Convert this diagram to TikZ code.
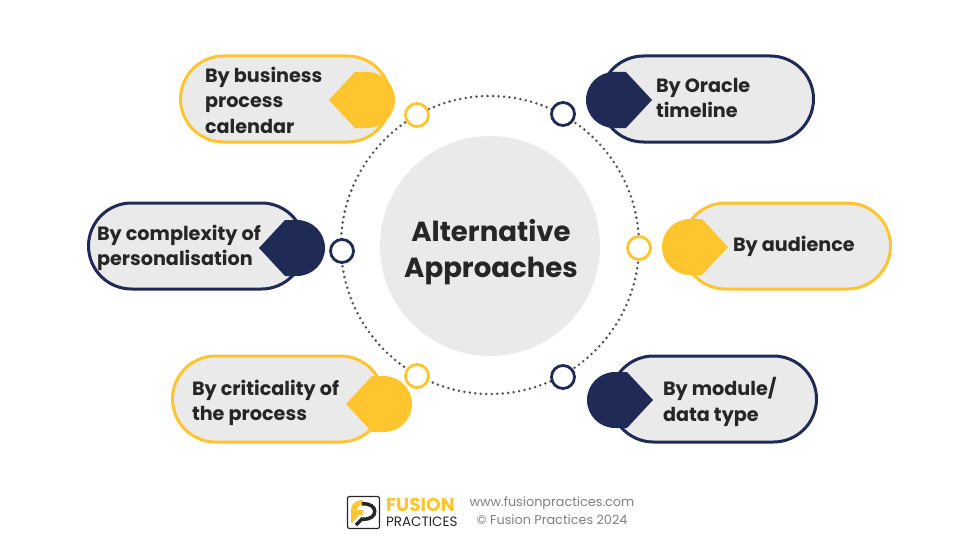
\documentclass[tikz,border=0pt]{standalone}
\usepackage{fontspec}
\setmainfont{Poppins}
\usetikzlibrary{positioning}
\usetikzlibrary{shapes.misc}
\definecolor{sunny}{HTML}{FFC52F}
\definecolor{navy}{HTML}{1F2A55}
\definecolor{pale}{HTML}{EAEAEA}
\definecolor{ink}{HTML}{262626}
\definecolor{footgray}{HTML}{7F7F7F}
\newcommand{\pointer}[4]{
	\fill[#4] (#1,#2) ++(0,-28) -- ++({#3*12},0) -- ++({#3*26},28) -- ++({-#3*26},28) -- ++({-#3*12},0)
		arc[start angle=90, delta angle={#3*180}, radius=28] -- cycle;
}
\tikzset{
	every node/.style = {inner sep=0pt, outer sep=0pt},
	pill/.style = {rounded rectangle, draw=#1, line width=3pt, fill=pale, minimum height=86pt},
	label/.style = {font=\bfseries\fontsize{19.2}{25.5}\selectfont, text=ink, align=left},
	ring/.style = {circle, draw=#1, line width=2.8pt, fill=white, minimum size=23pt}
}

\begin{document}
\begin{tikzpicture}[x=1pt,y=-1pt]
	\useasboundingbox (0,0) rectangle (980,551);

	\node[circle, fill=pale, minimum size=220pt] (hub) at (490,246) {};
	\node[circle, draw=ink!80, line width=2.8pt, line cap=round, dash pattern=on 0pt off 5.5pt, minimum size=298pt] (orbit) at (490,245) {};
	\node[font=\bfseries\fontsize{27.6}{36}\selectfont, text=ink, align=center] (title) at (491,252) {Alternative\\Approaches};

	\node[ring=sunny] (ringA) at (417,115) {};
	\node[ring=navy] (ringB) at (563,114) {};
	\node[ring=navy] (ringC) at (342,251) {};
	\node[ring=sunny] (ringD) at (639,248) {};
	\node[ring=sunny] (ringE) at (417,376) {};
	\node[ring=navy] (ringF) at (563,377) {};

	\node[pill=sunny, minimum width=210pt] (pillA) at (285.5,99) {};
	\node[pill=navy, minimum width=213pt] (pillB) at (707,99) {};
	\node[pill=navy, minimum width=216pt] (pillC) at (196.5,246) {};
	\node[pill=sunny, minimum width=208pt] (pillD) at (786.5,246) {};
	\node[pill=sunny, minimum width=211pt] (pillE) at (278,399) {};
	\node[pill=navy, minimum width=206pt] (pillF) at (713.5,399) {};

	\pointer{367}{100}{-1}{sunny}
	\pointer{614}{100}{1}{navy}
	\pointer{297}{248}{-1}{navy}
	\pointer{690}{247}{1}{sunny}
	\pointer{384}{404}{-1}{sunny}
	\pointer{615}{400}{1}{navy}

	\node[label, anchor=west] (textA) at (205,100) {By business\\process\\calendar};
	\node[label, anchor=west] (textB) at (656,98) {By Oracle\\timeline};
	\node[label, anchor=west] (textC) at (97,248) {By complexity of\\personalisation};
	\node[label, anchor=west] (textD) at (733,246) {By audience};
	\node[label, anchor=west] (textE) at (192,403) {By criticality of\\the process};
	\node[label, anchor=west] (textF) at (663,402) {By module/\\data type};

	% logo
	\node[draw=ink, line width=1.2pt, rounded corners=2pt, minimum size=32pt] (logo) at (363.5,512.5) {};
	\fill[sunny] (351,523) -- (351,510) .. controls (351,504) and (356,500) .. (363,500) -- (363,505) .. controls (359,505) and (357,507) .. (357,510) -- (363,510) -- (363,515) -- (357,515) -- (357,518) -- cycle;
	\draw[ink, line width=3.5pt] (362,504) .. controls (379,502) and (379,521) .. (362,519) -- (356,525);
	\node[font=\bfseries\fontsize{18.6}{18}\selectfont, text=sunny, anchor=west] (fusion) at (386,505) {FUSION};
	\node[font=\fontsize{13.5}{14}\selectfont, text=ink, anchor=west] (practices) at (386,522) {PRACTICES};
	\node[font=\fontsize{12.8}{18}\selectfont, text=footgray, align=center] (footer) at (552,510.5) {www.fusionpractices.com\\© Fusion Practices 2024};
\end{tikzpicture}
\end{document}
